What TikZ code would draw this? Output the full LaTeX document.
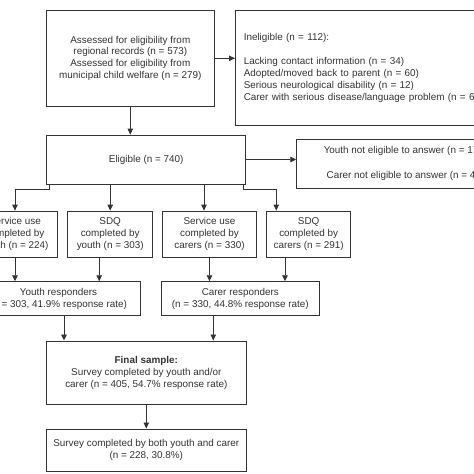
\documentclass[tikz,border=0pt]{standalone}
\usepackage{fontspec}
\setmainfont{Liberation Sans}
\usetikzlibrary{arrows.meta}
\begin{document}
\begin{tikzpicture}[x=1pt,y=-1pt,
box/.style={draw=black!80,line width=0.9pt,text=black!80,align=center,inner sep=0pt,font=\fontsize{9.9}{11.9}\selectfont},
arr/.style={draw=black!80,line width=0.9pt,-{Triangle[length=6pt,width=5.5pt]}}]
\useasboundingbox (0,0) rectangle (474,474);
\clip (0,0) rectangle (474,474);
\node[box,minimum width=167.3pt,minimum height=95.3pt] (assess) at (130.3,58.3) {Assessed for eligibility from\\regional records (n = 573)\\Assessed for eligibility from\\municipal child welfare (n = 279)};
\node[box,anchor=west,align=left,text width=250pt,inner xsep=8.3pt,minimum height=115.7pt] (inel) at (235,67.8) {Ineligible (n = 112):\\[11.9pt]Lacking contact information (n = 34)\\Adopted/moved back to parent (n = 60)\\Serious neurological disability (n = 12)\\Carer with serious disease/language problem (n = 6)};
\node[box,minimum width=199pt,minimum height=49pt] (elig) at (146.2,159.5) {Eligible (n = 740)};
\node[box,minimum width=212pt,minimum height=48.5pt] (notel) at (402.7,163.7) {Youth not eligible to answer (n = 17)\\[13pt]Carer not eligible to answer (n = 4)};
\node[box,minimum width=84.3pt,minimum height=46.3pt] (svy) at (15,234.2) {Service use\\completed by\\youth (n = 224)};
\node[box,minimum width=85pt,minimum height=46.3pt] (sdqy) at (110.2,234.2) {SDQ\\completed by\\youth (n = 303)};
\node[box,minimum width=93.6pt,minimum height=46.3pt] (svc) at (209.5,234.2) {Service use\\completed by\\carers (n = 330)};
\node[box,minimum width=84pt,minimum height=46.3pt] (sdqc) at (308.7,234.2) {SDQ\\completed by\\carers (n = 291)};
\node[box,minimum width=164.3pt,minimum height=34pt] (yresp) at (58.5,298.7) {Youth responders\\(n = 303, 41.9\% response rate)};
\node[box,minimum width=157.3pt,minimum height=34pt] (cresp) at (240.3,298.7) {Carer responders\\(n = 330, 44.8\% response rate)};
\node[box,minimum width=199.3pt,minimum height=63.7pt] (final) at (146.3,372.8) {\textbf{Final sample:}\\Survey completed by youth and/or\\carer (n = 405, 54.7\% response rate)};
\node[box,minimum width=199.3pt,minimum height=42.7pt] (both) at (146.3,450.3) {Survey completed by both youth and carer\\(n = 228, 30.8\%)};
\coordinate (svcin) at ([xshift=-5.5pt]svc.north);
\coordinate (sdqyout) at ([xshift=-11pt]sdqy.south);
\coordinate (sdqcout) at ([xshift=-23.7pt]sdqc.south);
\coordinate (yrespout) at ([xshift=5.5pt]yresp.south);
\coordinate (crespout) at ([xshift=-27pt]cresp.south);
\draw[arr] (assess.east) -- (assess.east -| inel.west);
\draw[arr] (assess.south) -- (assess.south |- elig.north);
\draw[arr] (elig.east) -- (elig.east -| notel.west);
\draw[arr] ([xshift=3.3pt]elig.south west) -- ++(0,5.3) -| (svy.north);
\draw[arr] (elig.south -| sdqy.north) -- (sdqy.north);
\draw[arr] (elig.south -| svcin) -- (svcin);
\draw[arr] ([xshift=-3pt]elig.south east) -- ++(0,5.3) -| ([xshift=10pt]sdqc.north west);
\draw[arr] (svy.south) -- (svy.south |- yresp.north);
\draw[arr] (sdqyout) -- (sdqyout |- yresp.north);
\draw[arr] (svc.south) -- (svc.south |- cresp.north);
\draw[arr] (sdqcout) -- (sdqcout |- cresp.north);
\draw[arr] (yrespout) -- (yrespout |- final.north);
\draw[arr] (crespout) -- (crespout |- final.north);
\draw[arr] (final.south) -- (both.north);
\end{tikzpicture}
\end{document}
